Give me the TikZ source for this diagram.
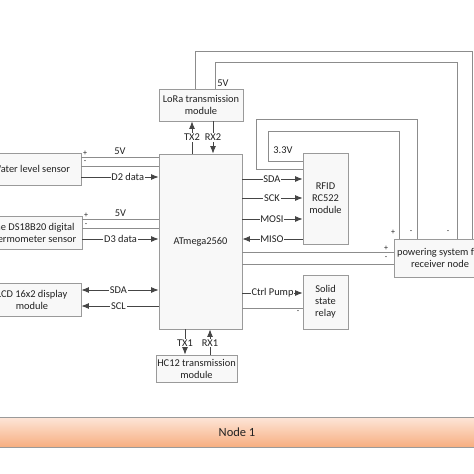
\documentclass[tikz,border=0pt]{standalone}
\usepackage{fontspec}
\setmainfont{Carlito}
\usetikzlibrary{arrows.meta}
\definecolor{wire}{HTML}{8C8C8C}
\definecolor{sig}{HTML}{454545}
\definecolor{boxline}{HTML}{9A9A9A}
\definecolor{boxfill}{HTML}{F8F8F8}
\definecolor{txt}{HTML}{222222}
\definecolor{bartop}{HTML}{FDE4D6}
\definecolor{barbot}{HTML}{F7AE80}
\begin{document}
\begin{tikzpicture}[x=1pt,y=-1pt,
  box/.style={draw=boxline, fill=boxfill, line width=0.8pt, align=center, inner sep=0pt, text=txt, font=\fontsize{10.4}{12}\selectfont},
  wirel/.style={draw=wire, line width=0.8pt},
  sigl/.style={draw=sig, line width=0.9pt},
  arr/.style={sigl, -{Latex[length=7.5pt,width=6pt]}},
  darr/.style={sigl, {Latex[length=7.5pt,width=6pt]}-{Latex[length=7.5pt,width=6pt]}},
  lab/.style={fill=white, inner sep=0.8pt, text=txt, font=\fontsize{10.4}{12}\selectfont},
  plab/.style={inner sep=0pt, text=txt, font=\fontsize{10.4}{12}\selectfont},
  sign/.style={inner sep=0pt, text=txt, font=\fontsize{8}{9}\selectfont}]
\useasboundingbox (0,0) rectangle (474,474);
\fill[white] (0,0) rectangle (474,474);
\clip (0,0) rectangle (474,474);

% boxes
\node[box, minimum width=83pt, minimum height=175pt] (atm) at (200.5,241.5) {ATmega2560};
\node[box, minimum width=84pt, minimum height=32pt] (lora) at (201,105) {LoRa transmission\\module};
\node[box, minimum width=81pt, minimum height=27pt] (hc) at (196.5,368.5) {HC12 transmission\\module};
\node[box, minimum width=100pt, minimum height=32pt] (wls) at (31,169) {Water level sensor};
\node[box, minimum width=99pt, minimum height=33pt] (ds) at (32.5,232.5) {The DS18B20 digital\\thermometer sensor};
\node[box, minimum width=98pt, minimum height=33pt] (lcd) at (32,299.5) {LCD 16x2 display\\module};
\node[box, minimum width=45pt, minimum height=91pt] (rfid) at (325.5,198.5) {RFID\\RC522\\module};
\node[box, minimum width=45pt, minimum height=54pt] (ssr) at (325.5,302) {Solid\\state\\relay};
\node[box, minimum width=92pt, minimum height=38pt] (pwr) at (440,258) {powering system for\\receiver node};

% water level sensor
\draw[wirel] (wls.east |- 0,157) -- node[plab, pos=0.5, above=2pt] (v1) {5V} (atm.west |- 0,157);
\draw[wirel] (wls.east |- 0,166) -- (atm.west |- 0,166);
\node[sign] (s1) at (85,153) {+};
\node[sign] (s2) at (85,162) {-};
\draw[arr] (wls.east |- 0,177) -- node[lab, pos=0.6] (d2) {D2 data} (atm.west |- 0,177);

% DS18B20
\draw[wirel] (ds.east |- 0,219) -- node[plab, pos=0.5, above=2pt] (v2) {5V} (atm.west |- 0,219);
\draw[wirel] (ds.east |- 0,228) -- (atm.west |- 0,228);
\node[sign] (s3) at (86,215) {+};
\node[sign] (s4) at (86,225) {-};
\draw[arr] (ds.east |- 0,239) -- node[lab, pos=0.5] (d3) {D3 data} (atm.west |- 0,239);

% LCD
\draw[darr] (lcd.east |- 0,290) -- node[lab, pos=0.48] (l1) {SDA} (atm.west |- 0,290);
\draw[arr] (atm.west |- 0,306) -- node[lab, pos=0.52] (l2) {SCL} (lcd.east |- 0,306);

% LoRa / HC12 serial
\draw[arr] (atm.north -| 192,0) -- node[lab] (t2) {TX2} (lora.south -| 192,0);
\draw[arr] (lora.south -| 213,0) -- node[lab] (r2) {RX2} (atm.north -| 213,0);
\draw[arr] (atm.south -| 185,0) -- node[lab, pos=0.55] (t1) {TX1} (hc.north -| 185,0);
\draw[arr] (hc.north -| 210,0) -- node[lab, pos=0.45] (r1) {RX1} (atm.south -| 210,0);

% RFID SPI
\draw[arr] (atm.east |- 0,179) -- node[lab, pos=0.49] (p1) {SDA} (rfid.west |- 0,179);
\draw[arr] (atm.east |- 0,198) -- node[lab, pos=0.49] (p2) {SCK} (rfid.west |- 0,198);
\draw[arr] (atm.east |- 0,219) -- node[lab, pos=0.49] (p3) {MOSI} (rfid.west |- 0,219);
\draw[arr] (rfid.west |- 0,239) -- node[lab, pos=0.51] (p4) {MISO} (atm.east |- 0,239);

% relay
\draw[arr] (atm.east |- 0,293) -- node[lab, pos=0.5] (cp) {Ctrl Pump} (ssr.west |- 0,293);
\draw[wirel] (atm.east |- 0,308) -- (ssr.west |- 0,308);
\node[sign] (s5) at (298,312) {-};

% power to ATmega
\draw[wirel] (atm.east |- 0,252) -- (pwr.west |- 0,252);
\draw[wirel] (atm.east |- 0,264) -- (pwr.west |- 0,264);
\node[sign] (s6) at (386,248) {+};
\node[sign] (s7) at (386,258) {-};

% RFID power
\draw[wirel] (rfid.west |- 0,161) -| (268,131) -| (pwr.north -| 399,0);
\draw[wirel] (rfid.west |- 0,169) -| (256,119) -| (pwr.north -| 417,0);
\node[plab] (v3) at (283,150) {3.3V};
\node[sign] (s8) at (393,232) {+};
\node[sign] (s9) at (411,232) {-};

% LoRa power
\draw[wirel] (lora.north -| 195,0) |- (472,51) -- (pwr.north -| 472,0);
\draw[wirel] (lora.north -| 215,0) |- (457,62) -- (pwr.north -| 457,0);
\node[plab] (v4) at (223,83) {5V};
\node[sign] (s10) at (448,232) {-};

% Node 1 bar
\node[minimum width=490pt, minimum height=29pt, inner sep=0pt, top color=bartop, bottom color=barbot, text=txt, font=\fontsize{12.5}{14}\selectfont] (n1) at (237,432.5) {Node 1};
\draw[draw=boxline, line width=0.9pt] (n1.north west) -- (n1.north east);
\draw[draw=boxline, line width=0.9pt] (n1.south west) -- (n1.south east);
\end{tikzpicture}
\end{document}
